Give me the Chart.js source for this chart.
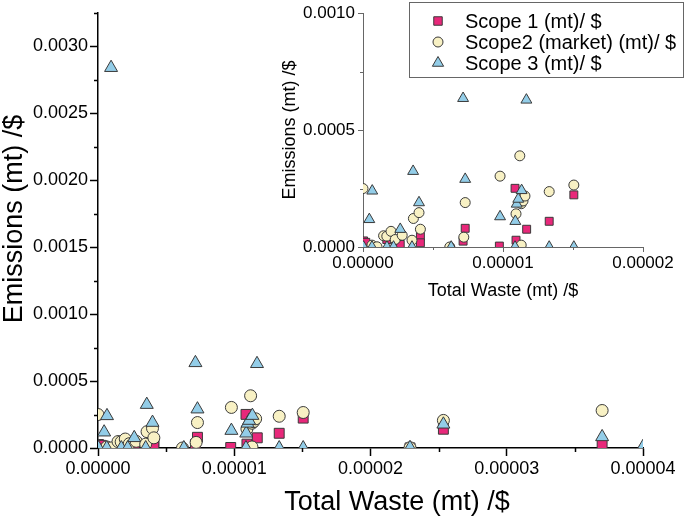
<!DOCTYPE html>
<html>
<head>
<meta charset="utf-8">
<script src="https://cdn.jsdelivr.net/npm/chart.js@4.4.1/dist/chart.umd.min.js"></script>
<style>
  body { margin: 0; background: #fff; }
  #wrap { position: relative; width: 685px; height: 516px; }
  #main { position: absolute; left: 0; top: 0; }
  #inset { position: absolute; left: 270px; top: 0; }
</style>
</head>
<body>
<div id="wrap">
  <canvas id="main" width="685" height="516"></canvas>
  <canvas id="inset" width="415" height="310"></canvas>
</div>
<script>
// values
let scope1X = [0.04e-6, 0.2e-6, 1.7e-6, 2.3e-6, 2.66e-6, 4.1e-6, 4.1e-6, 7.15e-6, 7.3e-6, 9.74e-6, 10.86e-6, 10.93e-6, 11.69e-6, 13.3e-6, 15.06e-6, 22.9e-6, 25.35e-6, 37.0e-6];
let scope1Y = [2.6e-5, 2.0e-5, 3.2e-5, 1.3e-5, 1.1e-5, 4.6e-5, 1.8e-5, 2.5e-5, 8.0e-5, 0.4e-5, 2.51e-4, 2.9e-5, 7.6e-5, 1.1e-4, 2.23e-4, 0.1e-5, 1.4e-4, 2.7e-5];

let scope2X = [0, 0.64e-6, 1.0e-6, 1.47e-6, 1.7e-6, 2.0e-6, 2.3e-6, 2.8e-6, 3.5e-6, 3.6e-6, 4.0e-6, 4.1e-6, 6.2e-6, 7.2e-6, 7.3e-6, 9.79e-6, 10.93e-6, 11.2e-6, 11.3e-6, 11.3e-6, 11.43e-6, 11.57e-6, 13.3e-6, 15.06e-6, 22.9e-6, 25.35e-6, 37.0e-6];
let scope2Y = [2.5e-4, 0.8e-5, 0.1e-5, 4.8e-5, 4.6e-5, 6.7e-5, 3.2e-5, 5.0e-5, 2.9e-5, 1.22e-4, 1.47e-4, 7.6e-5, 0, 4.2e-5, 1.9e-4, 3.03e-4, 1.42e-4, 3.9e-4, 1.85e-4, 0.8e-5, 1.97e-4, 2.18e-4, 2.37e-4, 2.65e-4, 0.2e-5, 2.06e-4, 2.8e-4];

let scope3X = [0.96e-6, 0.66e-6, 0.45e-6, 0.04e-6, 0.64e-6, 1.71e-6, 2.18e-6, 3.5e-6, 2.66e-6, 3.58e-6, 4.0e-6, 6.3e-6, 7.15e-6, 7.3e-6, 9.79e-6, 10.86e-6, 10.88e-6, 10.98e-6, 11.09e-6, 11.33e-6, 11.67e-6, 13.3e-6, 15.06e-6, 22.9e-6, 25.35e-6, 37.0e-6, 40.0e-6];
let scope3Y = [2.84e-3, 2.4e-4, 1.18e-4, 0, 0, 0, 0, 0, 7.6e-5, 3.24e-4, 1.9e-4, 0, 6.36e-4, 2.9e-4, 1.3e-4, 0, 1.1e-4, 1.84e-4, 2.05e-4, 2.42e-4, 6.29e-4, 0, 0, 0.2e-5, 1.77e-4, 8.3e-5, 1.0e-5];

let seriesNames = ['Scope 1 (mt)/ $', 'Scope2 (market) (mt)/ $', 'Scope 3 (mt)/ $'];
let mainXTicks = [0, 0.00001, 0.00002, 0.00003, 0.00004];
let mainYTicks = [0, 0.0005, 0.0010, 0.0015, 0.0020, 0.0025, 0.0030];
let insetXTicks = [0, 0.00001, 0.00002];
let insetYTicks = [0, 0.0005, 0.0010];

const FONT = "'Liberation Sans', Arial, sans-serif";

let toPoints = (xs, ys) => xs.map((x, i) => ({x: x, y: ys[i]}));

let makeDatasets = (sizes) => [
    {
        label: seriesNames[0], data: toPoints(scope1X, scope1Y),
        pointStyle: 'rect', pointRadius: sizes[0], backgroundColor: '#e8287a',
        borderColor: '#3a3a3a', borderWidth: 1, order: 2, clip: 0
    },
    {
        label: seriesNames[1], data: toPoints(scope2X, scope2Y),
        pointStyle: 'circle', pointRadius: sizes[1], backgroundColor: '#f8f1c4',
        borderColor: '#3a3a3a', borderWidth: 1, order: 1, clip: 0
    },
    {
        label: seriesNames[2], data: toPoints(scope3X, scope3Y),
        pointStyle: 'triangle', pointRadius: sizes[2], backgroundColor: '#93cde8',
        borderColor: '#3a3a3a', borderWidth: 1, order: 0, clip: 0
    }
];

// small ticks between the labelled ones
const minorTicks = {
    id: 'minorTicks',
    afterDraw(chart, args, opts) {
        let ctx = chart.ctx;
        let xs = chart.scales.x, ys = chart.scales.y;
        ctx.save();
        ctx.strokeStyle = opts.color;
        ctx.lineWidth = opts.width;
        ctx.beginPath();
        for (let v = opts.xStep / 2; v <= xs.max + 1e-12; v += opts.xStep) {
            let p = Math.round(xs.getPixelForValue(v)) + 0.5;
            ctx.moveTo(p, xs.top);
            ctx.lineTo(p, xs.top + opts.len);
        }
        for (let v = opts.yStep / 2; v <= ys.max + 1e-12; v += opts.yStep) {
            let p = Math.round(ys.getPixelForValue(v)) + 0.5;
            ctx.moveTo(ys.right, p);
            ctx.lineTo(ys.right - opts.len, p);
        }
        ctx.stroke();
        ctx.restore();
    }
};

// axis titles of the big plot, placed like the original
const axisTitles = {
    id: 'axisTitles',
    afterDraw(chart, args, opts) {
        let ctx = chart.ctx;
        ctx.save();
        ctx.fillStyle = '#000';
        ctx.font = opts.size + 'px ' + FONT;
        ctx.textAlign = 'center';
        ctx.textBaseline = 'middle';
        ctx.fillText(opts.x.text, opts.x.cx, opts.x.cy);
        ctx.translate(opts.y.cx, opts.y.cy);
        ctx.rotate(-Math.PI / 2);
        ctx.fillText(opts.y.text, 0, 0);
        ctx.restore();
    }
};

// boxed legend in the top right corner
const boxLegend = {
    id: 'boxLegend',
    afterDraw(chart, args, opts) {
        let ctx = chart.ctx;
        ctx.save();
        ctx.fillStyle = '#fff';
        ctx.fillRect(opts.left, opts.top, opts.width, opts.height);
        ctx.strokeStyle = '#666';
        ctx.lineWidth = 1;
        ctx.strokeRect(opts.left + 0.5, opts.top + 0.5, opts.width, opts.height);
        ctx.font = '20px ' + FONT;
        ctx.textBaseline = 'middle';
        chart.data.datasets.forEach((ds, i) => {
            let y = opts.top + opts.rowTop + i * opts.rowGap;
            ctx.fillStyle = ds.backgroundColor;
            ctx.strokeStyle = ds.borderColor;
            ctx.lineWidth = 1;
            Chart.helpers.drawPoint(ctx, {pointStyle: ds.pointStyle, radius: opts.sizes[i], borderWidth: 1, rotation: 0},
                opts.left + opts.markX, y);
            ctx.fillStyle = '#000';
            ctx.fillText(ds.label, opts.left + opts.textX, y + 1);
        });
        ctx.restore();
    }
};

let axis = (o) => ({
    type: 'linear',
    min: 0,
    max: o.max,
    afterBuildTicks: scale => { scale.ticks = o.ticks.map(v => ({value: v})); },
    afterFit: scale => {
        if (scale.isHorizontal()) scale.height = o.size; else scale.width = o.size;
    },
    ticks: {
        callback: v => v.toFixed(o.digits),
        font: {family: FONT, size: o.font},
        color: '#000',
        padding: o.padding,
        maxRotation: 0,
        autoSkip: false
    },
    grid: {
        drawOnChartArea: false,
        drawTicks: true,
        tickLength: o.tick,
        tickColor: o.color,
        tickWidth: o.lineWidth
    },
    border: {display: true, color: o.color, width: o.lineWidth},
    title: {
        display: !!o.title,
        text: o.title,
        color: '#000',
        font: {family: FONT, size: o.titleFont, lineHeight: 1},
        padding: o.titlePad
    }
});

new Chart(document.getElementById('main'), {
    type: 'scatter',
    data: {datasets: makeDatasets([7, 6, 7.5])},
    options: {
        responsive: false,
        animation: false,
        layout: {padding: {left: 0, right: 42, top: 7, bottom: 0}},
        plugins: {
            legend: {display: false},
            tooltip: {enabled: false},
            minorTicks: {xStep: 0.00001, yStep: 0.0005, len: 4, color: '#000', width: 1.5},
            axisTitles: {
                size: 27,
                x: {text: 'Total Waste (mt) /$', cx: 397, cy: 503},
                y: {text: 'Emissions (mt) /$', cx: 15, cy: 219}
            }
        },
        scales: {
            x: axis({max: 0.00004, ticks: mainXTicks, digits: 5, size: 68, font: 18, padding: 2,
                tick: 8, color: '#000', lineWidth: 1.5}),
            y: axis({max: 0.00325, ticks: mainYTicks, digits: 4, size: 98, font: 18, padding: 2,
                tick: 8, color: '#000', lineWidth: 1.5})
        }
    },
    plugins: [minorTicks, axisTitles]
});

new Chart(document.getElementById('inset'), {
    type: 'scatter',
    data: {datasets: makeDatasets([5.6, 5, 6.3])},
    options: {
        responsive: false,
        animation: false,
        layout: {padding: {left: 0, right: 42, top: 9, bottom: 0}},
        plugins: {
            legend: {display: false},
            tooltip: {enabled: false},
            minorTicks: {xStep: 0.00001, yStep: 0.0005, len: 3, color: '#666', width: 1},
            boxLegend: {left: 139, top: 2, width: 274, height: 75, markX: 29, textX: 56, rowTop: 19, rowGap: 21,
                sizes: [6, 5, 6.5]}
        },
        scales: {
            x: axis({max: 0.00002, ticks: insetXTicks, digits: 5, size: 63, font: 17, padding: 1,
                tick: 5, color: '#666', lineWidth: 1, title: 'Total Waste (mt) /$', titleFont: 18,
                titlePad: {top: 0, bottom: 10}}),
            y: axis({max: 0.0010, ticks: insetYTicks, digits: 4, size: 93, font: 17, padding: 3,
                tick: 5, color: '#666', lineWidth: 1, title: 'Emissions (mt) /$', titleFont: 18,
                titlePad: {top: 11, bottom: 0}})
        }
    },
    plugins: [minorTicks, boxLegend]
});
</script>
</body>
</html>
